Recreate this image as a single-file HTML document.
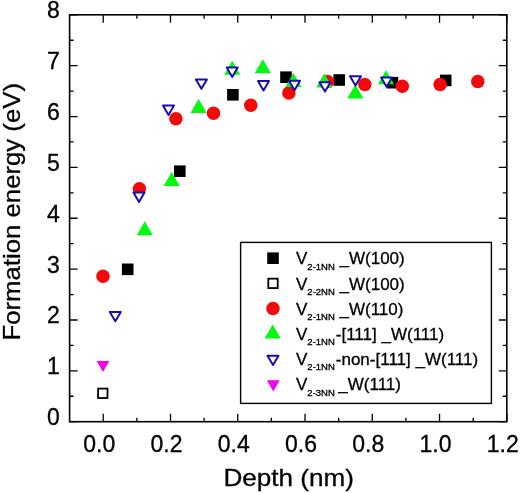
<!DOCTYPE html>
<html><head><meta charset="utf-8"><title>Formation energy vs depth</title>
<style>html,body{margin:0;padding:0;background:#fff;}svg{display:block;}text{font-family:"Liberation Sans", Arial, Helvetica, sans-serif;fill:#000;stroke:#000;stroke-width:0.3px;}</style>
</head><body>
<svg width="520" height="493" viewBox="0 0 520 493">
<rect x="0" y="0" width="520" height="493" fill="#fff"/>
<path d="M103.23 421.70V413.70M103.23 14.80V22.80M170.49 421.70V413.70M170.49 14.80V22.80M237.75 421.70V413.70M237.75 14.80V22.80M305.02 421.70V413.70M305.02 14.80V22.80M372.28 421.70V413.70M372.28 14.80V22.80M439.54 421.70V413.70M439.54 14.80V22.80M506.80 421.70V413.70M506.80 14.80V22.80M136.86 421.70V417.70M136.86 14.80V18.80M204.12 421.70V417.70M204.12 14.80V18.80M271.38 421.70V417.70M271.38 14.80V18.80M338.65 421.70V417.70M338.65 14.80V18.80M405.91 421.70V417.70M405.91 14.80V18.80M473.17 421.70V417.70M473.17 14.80V18.80M69.60 421.70H77.60M506.80 421.70H498.80M69.60 370.84H77.60M506.80 370.84H498.80M69.60 319.98H77.60M506.80 319.98H498.80M69.60 269.11H77.60M506.80 269.11H498.80M69.60 218.25H77.60M506.80 218.25H498.80M69.60 167.39H77.60M506.80 167.39H498.80M69.60 116.53H77.60M506.80 116.53H498.80M69.60 65.66H77.60M506.80 65.66H498.80M69.60 14.80H77.60M506.80 14.80H498.80M69.60 396.27H73.60M506.80 396.27H502.80M69.60 345.41H73.60M506.80 345.41H502.80M69.60 294.54H73.60M506.80 294.54H502.80M69.60 243.68H73.60M506.80 243.68H502.80M69.60 192.82H73.60M506.80 192.82H502.80M69.60 141.96H73.60M506.80 141.96H502.80M69.60 91.09H73.60M506.80 91.09H502.80M69.60 40.23H73.60M506.80 40.23H502.80" stroke="#000" stroke-width="1.3" fill="none"/>
<rect x="69.60" y="14.80" width="437.20" height="406.90" fill="none" stroke="#000" stroke-width="1.6"/>
<text x="59.8" y="425.1" font-size="23" text-anchor="end">0</text>
<text x="59.8" y="374.2" font-size="23" text-anchor="end">1</text>
<text x="59.8" y="323.4" font-size="23" text-anchor="end">2</text>
<text x="59.8" y="272.5" font-size="23" text-anchor="end">3</text>
<text x="59.8" y="221.7" font-size="23" text-anchor="end">4</text>
<text x="59.8" y="170.8" font-size="23" text-anchor="end">5</text>
<text x="59.8" y="119.9" font-size="23" text-anchor="end">6</text>
<text x="59.8" y="69.1" font-size="23" text-anchor="end">7</text>
<text x="59.8" y="18.2" font-size="23" text-anchor="end">8</text>
<text x="99.2" y="452" font-size="23" text-anchor="middle">0.0</text>
<text x="166.5" y="452" font-size="23" text-anchor="middle">0.2</text>
<text x="233.8" y="452" font-size="23" text-anchor="middle">0.4</text>
<text x="301.0" y="452" font-size="23" text-anchor="middle">0.6</text>
<text x="368.3" y="452" font-size="23" text-anchor="middle">0.8</text>
<text x="435.5" y="452" font-size="23" text-anchor="middle">1.0</text>
<text x="502.8" y="452" font-size="23" text-anchor="middle">1.2</text>
<text x="223.5" y="486.1" font-size="24" textLength="130.5" lengthAdjust="spacingAndGlyphs">Depth (nm)</text>
<text transform="translate(20.2,340.5) rotate(-90)" x="0" y="0" font-size="24" textLength="257.5" lengthAdjust="spacingAndGlyphs">Formation energy (eV)</text>
<rect x="121.90" y="263.50" width="11.6" height="11.6" fill="#000"/>
<rect x="174.00" y="165.40" width="11.6" height="11.6" fill="#000"/>
<rect x="227.10" y="89.00" width="11.6" height="11.6" fill="#000"/>
<rect x="280.20" y="71.40" width="11.6" height="11.6" fill="#000"/>
<rect x="333.40" y="74.20" width="11.6" height="11.6" fill="#000"/>
<rect x="386.60" y="76.90" width="11.6" height="11.6" fill="#000"/>
<rect x="439.90" y="74.60" width="11.6" height="11.6" fill="#000"/>
<rect x="98.10" y="388.60" width="9.40" height="9.40" fill="#fff" stroke="#000" stroke-width="1.8"/>
<circle cx="103.00" cy="276.20" r="6.75" fill="#f20a0a"/>
<circle cx="139.40" cy="188.70" r="6.75" fill="#f20a0a"/>
<circle cx="213.50" cy="113.30" r="6.75" fill="#f20a0a"/>
<circle cx="250.80" cy="105.20" r="6.75" fill="#f20a0a"/>
<circle cx="288.90" cy="93.10" r="6.75" fill="#f20a0a"/>
<circle cx="327.50" cy="81.50" r="6.75" fill="#f20a0a"/>
<circle cx="364.80" cy="84.50" r="6.75" fill="#f20a0a"/>
<circle cx="402.30" cy="86.30" r="6.75" fill="#f20a0a"/>
<circle cx="440.10" cy="84.40" r="6.75" fill="#f20a0a"/>
<circle cx="477.80" cy="81.40" r="6.75" fill="#f20a0a"/>
<path d="M144.80 221.20L152.90 235.20L136.70 235.20Z" fill="#04f812"/>
<path d="M171.70 172.10L179.80 186.10L163.60 186.10Z" fill="#04f812"/>
<path d="M198.60 99.00L206.70 113.00L190.50 113.00Z" fill="#04f812"/>
<path d="M232.30 60.70L240.40 74.70L224.20 74.70Z" fill="#04f812"/>
<path d="M262.80 59.20L270.90 73.20L254.70 73.20Z" fill="#04f812"/>
<path d="M293.40 72.90L301.50 86.90L285.30 86.90Z" fill="#04f812"/>
<path d="M324.30 73.60L332.40 87.60L316.20 87.60Z" fill="#04f812"/>
<path d="M355.40 84.50L363.50 98.50L347.30 98.50Z" fill="#04f812"/>
<path d="M386.00 70.20L394.10 84.20L377.90 84.20Z" fill="#04f812"/>
<path d="M109.80 311.90H120.80L115.30 321.30Z" fill="#fff" stroke="#180eb0" stroke-width="2.0" stroke-linejoin="round"/>
<path d="M133.50 192.60H144.50L139.00 202.00Z" fill="#fff" stroke="#180eb0" stroke-width="2.0" stroke-linejoin="round"/>
<path d="M163.00 105.60H174.00L168.50 115.00Z" fill="#fff" stroke="#180eb0" stroke-width="2.0" stroke-linejoin="round"/>
<path d="M195.90 79.40H206.90L201.40 88.80Z" fill="#fff" stroke="#180eb0" stroke-width="2.0" stroke-linejoin="round"/>
<path d="M226.70 67.60H237.70L232.20 77.00Z" fill="#fff" stroke="#180eb0" stroke-width="2.0" stroke-linejoin="round"/>
<path d="M258.00 81.00H269.00L263.50 90.40Z" fill="#fff" stroke="#180eb0" stroke-width="2.0" stroke-linejoin="round"/>
<path d="M289.00 80.80H300.00L294.50 90.20Z" fill="#fff" stroke="#180eb0" stroke-width="2.0" stroke-linejoin="round"/>
<path d="M319.50 82.20H330.50L325.00 91.60Z" fill="#fff" stroke="#180eb0" stroke-width="2.0" stroke-linejoin="round"/>
<path d="M350.00 76.20H361.00L355.50 85.60Z" fill="#fff" stroke="#180eb0" stroke-width="2.0" stroke-linejoin="round"/>
<path d="M381.10 77.40H392.10L386.60 86.80Z" fill="#fff" stroke="#180eb0" stroke-width="2.0" stroke-linejoin="round"/>
<circle cx="175.90" cy="118.80" r="6.75" fill="#f20a0a"/>
<path d="M96.60 360.90H109.40L103.00 372.10Z" fill="#f200f4"/>
<rect x="240.6" y="242.4" width="250.8" height="161.0" fill="#fff" stroke="#000" stroke-width="1.4"/>
<rect x="267.20" y="252.40" width="11.6" height="11.6" fill="#000"/>
<text x="296.0" y="264.40" font-size="17">V<tspan font-size="9.5" dy="5.4">2-1NN</tspan><tspan dy="-5.4" dx="0">&#160;_W(100)</tspan></text>
<rect x="268.30" y="278.66" width="9.40" height="9.40" fill="#fff" stroke="#000" stroke-width="1.8"/>
<text x="296.0" y="289.56" font-size="17">V<tspan font-size="9.5" dy="5.4">2-2NN</tspan><tspan dy="-5.4" dx="0">&#160;_W(100)</tspan></text>
<circle cx="273.00" cy="308.52" r="6.75" fill="#f20a0a"/>
<text x="296.0" y="314.72" font-size="17">V<tspan font-size="9.5" dy="5.4">2-1NN</tspan><tspan dy="-5.4" dx="0">&#160;_W(110)</tspan></text>
<path d="M272.70 324.48L280.80 338.48L264.60 338.48Z" fill="#04f812"/>
<text x="296.0" y="339.88" font-size="17">V<tspan font-size="9.5" dy="5.4">2-1NN</tspan><tspan dy="-5.4" dx="1.0">-[111]&#160;_W(111)</tspan></text>
<path d="M267.50 355.64H278.50L273.00 365.04Z" fill="#fff" stroke="#180eb0" stroke-width="2.0" stroke-linejoin="round"/>
<text x="296.0" y="365.04" font-size="17">V<tspan font-size="9.5" dy="5.4">2-1NN</tspan><tspan dy="-5.4" dx="1.0">-non-[111]&#160;_W(111)</tspan></text>
<path d="M266.90 380.20H279.70L273.30 391.40Z" fill="#f200f4"/>
<text x="296.0" y="390.20" font-size="17">V<tspan font-size="9.5" dy="5.4">2-3NN</tspan><tspan dy="-5.4" dx="-1.2">&#160;_W(111)</tspan></text>
</svg>
</body></html>
